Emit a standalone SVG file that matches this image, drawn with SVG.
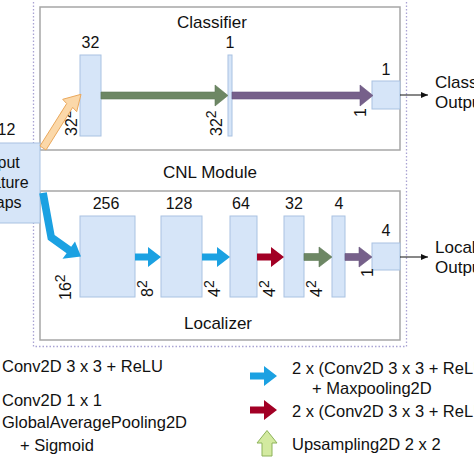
<svg xmlns="http://www.w3.org/2000/svg" width="474" height="474" viewBox="0 0 474 474">
<defs>
<style>
text{font-family:"Liberation Sans",Arial,sans-serif;fill:#111}
.t17{font-size:17px}
.t16{font-size:16px}
.lg{font-size:16.5px}
.sup{font-size:14px}
.blk{fill:#d6e5f8;stroke:#a9c2e2;stroke-width:1}
.box{fill:#fff;stroke:#a6a6a6;stroke-width:1.5}
.mid{text-anchor:middle}
.blue{fill:#1ba1e2}
.red{fill:#a20025}
.green{fill:#6d8764;stroke:#5f7a57;stroke-width:0.6}
.purple{fill:#76608a;stroke:#6a5680;stroke-width:0.6}
</style>
<marker id="ah" markerWidth="8" markerHeight="8" refX="7" refY="4" orient="auto" markerUnits="userSpaceOnUse">
<path d="M0,1 L7,4 L0,7 Z" fill="#111"/>
</marker>
</defs>
<rect width="474" height="474" fill="#fff"/>
<rect x="33.5" y="-10" width="373" height="356.5" fill="none" stroke="#a9a3d3" stroke-width="1.3" stroke-dasharray="1.5 2"/>
<g id="classifier">
<rect class="box" x="40" y="7" width="360" height="143"/>
<text class="t17 mid" x="212" y="28">Classifier</text>
</g>
<g id="localizer">
<rect class="box" x="40" y="191" width="360" height="149"/>
<text class="t17 mid" x="218" y="329">Localizer</text>
</g>
<text class="t17 mid" x="210" y="178">CNL Module</text>
<g id="input">
<rect class="blk" x="-10" y="143" width="50" height="80"/>
<text class="t16 mid" x="2" y="135">512</text>
<text class="t16 mid" x="2" y="168">Input</text>
<text class="t16 mid" x="1" y="188">Feature</text>
<text class="t16 mid" x="2" y="208">Maps</text>
</g>
<g id="c32">
<rect class="blk" x="80" y="55" width="21" height="81"/>
<text class="t16 mid" x="90.5" y="48">32</text>
<text class="t16" transform="translate(77,136) rotate(-90)">32<tspan class="sup" dy="-6">2</tspan></text>
</g>
<g id="c1">
<rect class="blk" x="228" y="55" width="4" height="81"/>
<text class="t16 mid" x="230" y="48">1</text>
<text class="t16" transform="translate(222,136) rotate(-90)">32<tspan class="sup" dy="-6">2</tspan></text>
</g>
<g id="cout">
<rect class="blk" x="372" y="81" width="28" height="28"/>
<text class="t16 mid" x="386" y="75">1</text>
<text class="t16" transform="translate(366,117) rotate(-90)">1</text>
</g>
<g id="l256">
<rect class="blk" x="80" y="216" width="55" height="81"/>
<text class="t16 mid" x="106" y="209">256</text>
<text class="t16" transform="translate(71,300) rotate(-90)">16<tspan class="sup" dy="-6">2</tspan></text>
</g>
<g id="l128">
<rect class="blk" x="161" y="216" width="41" height="81"/>
<text class="t16 mid" x="179" y="209">128</text>
<text class="t16" transform="translate(153,297) rotate(-90)">8<tspan class="sup" dy="-6">2</tspan></text>
</g>
<g id="l64">
<rect class="blk" x="230" y="216" width="27" height="81"/>
<text class="t16 mid" x="241" y="209">64</text>
<text class="t16" transform="translate(220,297) rotate(-90)">4<tspan class="sup" dy="-6">2</tspan></text>
</g>
<g id="l32">
<rect class="blk" x="284" y="216" width="20" height="81"/>
<text class="t16 mid" x="294" y="209">32</text>
<text class="t16" transform="translate(275,297) rotate(-90)">4<tspan class="sup" dy="-6">2</tspan></text>
</g>
<g id="l4">
<rect class="blk" x="332" y="216" width="13" height="81"/>
<text class="t16 mid" x="339" y="209">4</text>
<text class="t16" transform="translate(322,297) rotate(-90)">4<tspan class="sup" dy="-6">2</tspan></text>
</g>
<g id="lout">
<rect class="blk" x="372" y="243" width="28" height="27"/>
<text class="t16 mid" x="386" y="236">4</text>
<text class="t16" transform="translate(373,277) rotate(-90)">1</text>
</g>
<g id="outputs">
<text class="t17" x="435" y="88">Classification</text>
<text class="t17" x="435" y="108">Output</text>
<text class="t17" x="435" y="253">Localization</text>
<text class="t17" x="435" y="273">Output</text>
</g>
<g id="connectors">
<polygon points="40,146 66.7,103.6 62.7,99.3 81,94.3 76.7,111.7 72.7,107.4 46,150" fill="#fbd8a9" stroke="#eaa85c" stroke-width="1"/>
<polygon class="green" points="101,92 215,92 215,85 228,95.5 215,106 215,99 101,99"/>
<polygon class="purple" points="232,92 360,92 360,85 373,95.5 360,106 360,99 232,99"/>
<polygon class="blue" points="39.2,193.6 46.8,192.3 54.6,235 71.2,246.8 75,241.5 81,256.5 62.5,258.8 66.6,253.2 47.8,239.8"/>
<polygon class="blue" points="135,253.5 148,253.5 148,247 161,257 148,267 148,260.5 135,260.5"/>
<polygon class="blue" points="202,253.5 217,253.5 217,247 230,257 217,267 217,260.5 202,260.5"/>
<polygon class="red" points="257,253.5 271,253.5 271,247 284,257 271,267 271,260.5 257,260.5"/>
<polygon class="green" points="304,253.5 319,253.5 319,247 332,257 319,267 319,260.5 304,260.5"/>
<polygon class="purple" points="345,253.5 359,253.5 359,247 372,257 359,267 359,260.5 345,260.5"/>
<line x1="400" y1="95" x2="428" y2="95" stroke="#111" stroke-width="1" marker-end="url(#ah)"/>
<line x1="400" y1="257" x2="428" y2="257" stroke="#111" stroke-width="1" marker-end="url(#ah)"/>
</g>
<g id="legend">
<text class="lg" x="2" y="372">Conv2D 3 x 3 + ReLU</text>
<text class="lg" x="2" y="406">Conv2D 1 x 1</text>
<text class="lg" x="2" y="428">GlobalAveragePooling2D</text>
<text class="lg" x="20" y="451">+ Sigmoid</text>
<polygon class="blue" points="250,372.5 264,372.5 264,366 277,376 264,386 264,379.5 250,379.5"/>
<text class="lg" x="292" y="373.5">2 x (Conv2D 3 x 3 + ReLU)</text>
<text class="lg" x="312" y="394">+ Maxpooling2D</text>
<polygon class="red" points="250,406.5 264,406.5 264,400 277,410 264,420 264,413.5 250,413.5"/>
<text class="lg" x="292" y="417">2 x (Conv2D 3 x 3 + ReLU)</text>
<polygon points="267,430.5 277,443 272,443 272,456 262,456 262,443 257,443" fill="#d3eaa0" stroke="#8db35a" stroke-width="1"/>
<text class="lg" x="292" y="449.5">Upsampling2D 2 x 2</text>
</g>
</svg>
